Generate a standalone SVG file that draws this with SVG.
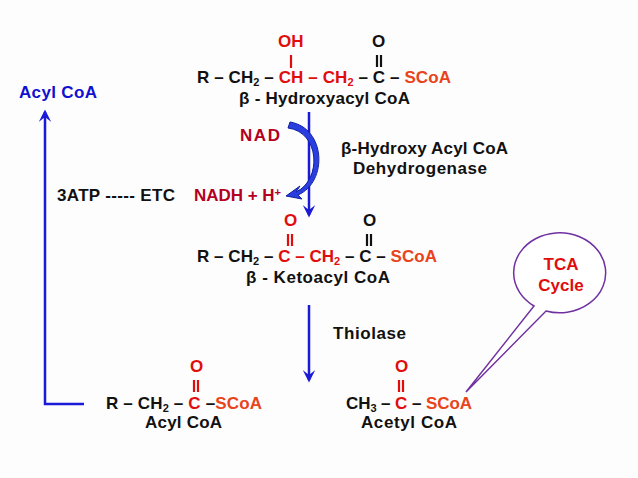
<svg xmlns="http://www.w3.org/2000/svg" width="638" height="478" viewBox="0 0 638 478">
<defs>
<style>
text{font-family:"Liberation Sans",Arial,sans-serif;font-weight:bold;font-size:17px;fill:#111}
.r{fill:#e00d0d}.o{fill:#e8441c}.d{fill:#b3001e}.b{fill:#1010d0}
.s{font-size:11px}
.bond{stroke:#111;stroke-width:2.2}.rb{stroke:#e00d0d;stroke-width:2.2}
.ar{stroke:#1a1ad8;stroke-width:2.5;fill:none}
</style>
<marker id="ah" viewBox="0 0 10 10" refX="8" refY="5" markerWidth="5" markerHeight="5" orient="auto"><path d="M0,0 L10,5 L0,10 L4,5 z" fill="#1a1ad8"/></marker>
</defs>
<rect width="638" height="478" fill="#fdfdfd"/>
<g id="connectors">
<line class="ar" x1="309" y1="112" x2="309" y2="215" marker-end="url(#ah)"/>
<line class="ar" x1="309" y1="305" x2="309" y2="380" marker-end="url(#ah)"/>
<polyline class="ar" points="84,404 45,404 45,112" marker-end="url(#ah)"/>
<path d="M288,128 C320,132 322,180 296,192 L300,186 L286,196 L302,199 L298,195 C328,182 326,128 290,122 z" fill="#2a3ee0" stroke="#1020a0" stroke-width="1"/>
</g>
<g id="hydroxyacyl">
<text x="278" y="47" class="r">OH</text>
<text x="372" y="47">O</text>
<line class="rb" x1="291" y1="55" x2="291" y2="68"/>
<line class="bond" x1="377" y1="55" x2="377" y2="67"/><line class="bond" x1="381" y1="55" x2="381" y2="67"/>
<text x="197" y="83" textLength="254" lengthAdjust="spacing">R – CH<tspan class="s" dy="3">2</tspan><tspan dy="-3"> – </tspan><tspan class="r">CH – CH</tspan><tspan class="r s" dy="3">2</tspan><tspan dy="-3"> – C – </tspan><tspan class="o">SCoA</tspan></text>
<text x="239" y="104" textLength="171">β - Hydroxyacyl CoA</text>
</g>
<g id="ketoacyl">
<text x="284" y="226" class="r">O</text>
<text x="363" y="226">O</text>
<line class="rb" x1="288" y1="234" x2="288" y2="246"/><line class="rb" x1="292" y1="234" x2="292" y2="246"/>
<line class="bond" x1="367" y1="234" x2="367" y2="246"/><line class="bond" x1="371" y1="234" x2="371" y2="246"/>
<text x="197" y="262" textLength="240" lengthAdjust="spacing">R – CH<tspan class="s" dy="3">2</tspan><tspan dy="-3"> – </tspan><tspan class="r">C – CH</tspan><tspan class="r s" dy="3">2</tspan><tspan dy="-3"> – C – </tspan><tspan class="o">SCoA</tspan></text>
<text x="246" y="283" textLength="144">β - Ketoacyl CoA</text>
</g>
<g id="acylcoa">
<text x="190" y="372" class="r">O</text>
<line class="rb" x1="194" y1="380" x2="194" y2="392"/><line class="rb" x1="198" y1="380" x2="198" y2="392"/>
<text x="106" y="409" textLength="156" lengthAdjust="spacing">R – CH<tspan class="s" dy="3">2</tspan><tspan dy="-3"> – </tspan><tspan class="r">C</tspan> –<tspan class="o">SCoA</tspan></text>
<text x="145" y="428" textLength="77">Acyl CoA</text>
</g>
<g id="acetylcoa">
<text x="395" y="372" class="r">O</text>
<line class="rb" x1="399" y1="380" x2="399" y2="392"/><line class="rb" x1="403" y1="380" x2="403" y2="392"/>
<text x="346" y="409" textLength="126" lengthAdjust="spacing">CH<tspan class="s" dy="3">3</tspan><tspan dy="-3"> – </tspan><tspan class="r">C</tspan> – <tspan class="o">SCoA</tspan></text>
<text x="361" y="428" textLength="96">Acetyl CoA</text>
</g>
<g id="labels">
<text x="19" y="98" class="b" textLength="78">Acyl CoA</text>
<text x="57" y="201" textLength="118">3ATP ----- ETC</text>
<text x="194" y="201" class="d" textLength="87">NADH + H<tspan class="s" dy="-5">+</tspan></text>
<text x="240" y="141" class="d" textLength="40">NAD</text>
<text x="341" y="154" textLength="167">β-Hydroxy Acyl CoA</text>
<text x="353" y="174" textLength="134">Dehydrogenase</text>
<text x="333" y="339" textLength="73">Thiolase</text>
</g>
<g id="tca">
<path d="M466,392 L534,306 A46,40 0 1 1 546,311 Z" fill="#fff" stroke="#7030a0" stroke-width="1.5"/>
<text x="561" y="270" class="r" text-anchor="middle">TCA</text>
<text x="561" y="291" class="r" text-anchor="middle">Cycle</text>
</g>
</svg>
